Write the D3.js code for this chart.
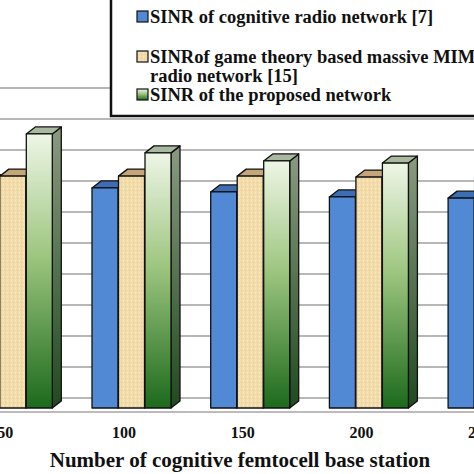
<!DOCTYPE html>
<html><head><meta charset="utf-8">
<script src="https://d3js.org/d3.v7.min.js"></script>
<style>body{margin:0;background:#fff}text{font-family:"Liberation Serif","Times New Roman",serif;font-weight:bold}</style>
</head><body>
<svg id="chart" width="474" height="474"></svg>
<script>
var categories = [50, 100, 150, 200, 250];
var cognitive = [7.3, 7.1, 6.97, 6.81, 6.77];
var gameTheory = [7.48, 7.48, 7.48, 7.45, 7.45];
var proposed = [8.84, 8.23, 7.97, 7.9, 7.85];
var seriesNames = ["SINR of cognitive radio network [7]", "SINRof game theory based massive MIMO|radio network [15]", "SINR of the proposed network"];
var gridTicks = [0, 1, 2, 3, 4, 5, 6, 7, 8, 9, 10];

var svg = d3.select("#chart");
var defs = svg.append("defs");
var gg = defs.append("linearGradient").attr("id", "gGreen").attr("x1", 0).attr("y1", 0).attr("x2", 0).attr("y2", 1);
gg.append("stop").attr("offset", "0").attr("stop-color", "#eef6e6");
gg.append("stop").attr("offset", "0.45").attr("stop-color", "#9cc57e");
gg.append("stop").attr("offset", "1").attr("stop-color", "#1c6a1c");
var gs = defs.append("linearGradient").attr("id", "gGreenSide").attr("x1", 0).attr("y1", 0).attr("x2", 0).attr("y2", 1);
gs.append("stop").attr("offset", "0").attr("stop-color", "#8a9a80");
gs.append("stop").attr("offset", "1").attr("stop-color", "#204a20");
var pat = defs.append("pattern").attr("id", "tex").attr("width", 4).attr("height", 4).attr("patternUnits", "userSpaceOnUse");
pat.append("rect").attr("width", 4).attr("height", 4).attr("fill", "#f2dcaa");
pat.append("rect").attr("x", 1).attr("y", 2).attr("width", 1).attr("height", 1).attr("fill", "#e6c98e");
pat.append("rect").attr("x", 3).attr("y", 0).attr("width", 1).attr("height", 2).attr("fill", "#f7e6c0");

var x = d3.scaleLinear().domain([100, 200]).range([124, 361.4]);
var y = d3.scaleLinear().domain([0, 1]).range([408, 377]);
var dx = 9, dy = -7, bw = 26;

// back wall gridlines
svg.append("g").selectAll("line").data(gridTicks).enter().append("line")
  .attr("x1", 0).attr("x2", 474)
  .attr("y1", function(d) { return y(d) - 10; }).attr("y2", function(d) { return y(d) - 10; })
  .attr("stroke", "#a0a0a0").attr("stroke-width", 1.5);
// floor edge
svg.append("line").attr("x1", 0).attr("x2", 474).attr("y1", y(0) + 4).attr("y2", y(0) + 4)
  .attr("stroke", "#bbb").attr("stroke-width", 2);

var styles = [
  {front: "#5189d4", top: "#3d6db2", side: "#2d5896"},
  {front: "url(#tex)", top: "#c4a678", side: "#a88e66"},
  {front: "url(#gGreen)", top: "#a9b9a0", side: "url(#gGreenSide)"}
];
var data = [cognitive, gameTheory, proposed];

categories.forEach(function(c, i) {
  data.forEach(function(s, k) {
    var x0 = x(c) - 32 + k * (bw + 0.5), yt = y(s[i]), yb = y(0);
    var g = svg.append("g").attr("stroke", "#111").attr("stroke-width", 1.3).attr("stroke-linejoin", "round");
    g.append("path").attr("fill", styles[k].side)
      .attr("d", "M" + (x0 + bw) + "," + yt + "l" + dx + "," + dy + "L" + (x0 + bw + dx) + "," + (yb + dy) + "L" + (x0 + bw) + "," + yb + "Z");
    g.append("path").attr("fill", styles[k].top)
      .attr("d", "M" + x0 + "," + yt + "l" + dx + "," + dy + "h" + bw + "l" + (-dx) + "," + (-dy) + "Z");
    g.append("rect").attr("x", x0).attr("y", yt).attr("width", bw).attr("height", yb - yt).attr("fill", styles[k].front);
  });
});

// x labels
svg.append("g").selectAll("text").data(categories).enter().append("text")
  .attr("x", function(d) { return x(d); }).attr("y", 438).attr("text-anchor", "middle")
  .attr("font-size", 16).attr("fill", "#111").text(function(d) { return d; });
svg.append("text").attr("x", 240).attr("y", 467).attr("text-anchor", "middle")
  .attr("font-size", 21).attr("fill", "#111").text("Number of cognitive femtocell base station");

// legend
var lg = svg.append("g");
lg.append("rect").attr("x", 111).attr("y", -5).attr("width", 380).attr("height", 121)
  .attr("fill", "#fff").attr("stroke", "#111").attr("stroke-width", 2.5);
var ly = [17, 57, 95];
var sw = ["#5189d4", "url(#tex)", "url(#gGreen)"];
seriesNames.forEach(function(n, k) {
  lg.append("rect").attr("x", 137).attr("y", ly[k] - 6).attr("width", 11).attr("height", 11)
    .attr("fill", sw[k]).attr("stroke", "#111").attr("stroke-width", 1.2);
  n.split("|").forEach(function(line, j) {
    lg.append("text").attr("x", 150).attr("y", ly[k] + 6 + j * 19).attr("font-size", 18.5)
      .attr("fill", "#111").text(line);
  });
});
</script>
</body></html>
